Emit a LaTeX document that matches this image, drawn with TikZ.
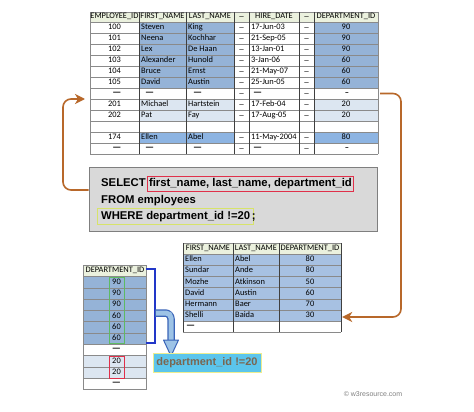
\documentclass[tikz,border=0pt]{standalone}
\usepackage{fontspec}
\setmainfont{Carlito}
\newfontfamily\sqlf{Liberation Sans}
\usetikzlibrary{arrows.meta}
\definecolor{hdrgreen}{HTML}{EBF1DE}
\definecolor{cblue}{HTML}{95B3D7}
\definecolor{clight}{HTML}{DCE6F1}
\definecolor{cdeep}{HTML}{8DB4E2}
\definecolor{rblue}{HTML}{A7C1E2}
\definecolor{gridc}{HTML}{8A8A8A}
\definecolor{vlinec}{HTML}{404040}
\definecolor{orng}{HTML}{B8682A}
\definecolor{sqlgray}{HTML}{D9D9D9}
\definecolor{sqlborder}{HTML}{7F7F7F}
\definecolor{redbox}{HTML}{E0304A}
\definecolor{limebox}{HTML}{D7E36A}
\definecolor{brkblue}{HTML}{2237C8}
\definecolor{arrlight}{HTML}{9DC3E6}
\definecolor{arrdark}{HTML}{3A64B8}
\definecolor{skyb}{HTML}{5BC5EC}
\definecolor{lblyellow}{HTML}{EDED90}
\definecolor{lbltext}{HTML}{7A6650}
\definecolor{gboxc}{HTML}{5DBB63}
\newcommand\dcol{{\fontsize{6}{6}\selectfont\bfseries —}}
\newcommand\drow{{\fontsize{10}{10}\selectfont\bfseries —}}
\begin{document}
\begin{tikzpicture}[x=1pt,y=-1pt,
  every node/.style={inner sep=0pt, font=\fontsize{8.4}{9}\selectfont},
  cell/.style={text height=5.6pt, text depth=1.6pt},
  lt/.style={cell, anchor=west},
  ct/.style={cell, anchor=center},
  hl/.style={draw=gridc, line width=0.5pt},
  vl/.style={draw=vlinec, line width=0.8pt},
  oarrow/.style={draw=orng, line width=1.6pt, rounded corners=8pt, -{Stealth[length=10pt,width=10pt,inset=3pt]}},
  sqltext/.style={font=\sqlf\bfseries\fontsize{11.3}{13}\selectfont, anchor=west, inner sep=0pt, text height=8.2pt, text depth=2.5pt},
  frame/.style={draw=none, inner sep=0pt}]
\useasboundingbox (0,0) rectangle (474,412);
\fill[white] (0,0) rectangle (474,412);

% ---------- top table ----------
\node[frame, minimum width=288pt, minimum height=142pt] (toptbl) at (234,83) {};
\fill[hdrgreen] (90,12) rectangle (378,22);
\fill[cblue] (139,22) rectangle (234,88); \fill[cblue] (314,22) rectangle (378,88);
\fill[clight] (139,99) rectangle (234,121); \fill[clight] (314,99) rectangle (378,121);
\fill[cdeep] (139,132) rectangle (234,143); \fill[cdeep] (314,132) rectangle (378,143);
\draw[hl] (90,12) -- (378,12);
\foreach \i in {0,...,12} \draw[hl] (90,{22+11*\i}) -- (378,{22+11*\i});
\draw[hl] (90,12) -- (90,154); \draw[hl] (378,12) -- (378,154);
\foreach \x in {139,186,234,249,299,314} \draw[vl] (\x,12) -- (\x,154);
\foreach \n/\x/\t in {1/114.5/EMPLOYEE\_ID, 2/162.5/FIRST\_NAME, 3/210/LAST\_NAME, 5/274/HIRE\_DATE, 7/346/DEPARTMENT\_ID}
  \node[ct] (th-\n) at (\x,17) {\t};
\node[ct] (th-4) at (241.5,17) {\dcol};
\node[ct] (th-6) at (306.5,17) {\dcol};
\foreach \r/\va/\vb/\vc/\ve/\vg in {1/100/Steven/King/17-Jun-03/90, 2/101/Neena/Kochhar/21-Sep-05/90, 3/102/Lex/De Haan/13-Jan-01/90, 4/103/Alexander/Hunold/3-Jan-06/60, 5/104/Bruce/Ernst/21-May-07/60, 6/105/David/Austin/25-Jun-05/60, 8/201/Michael/Hartstein/17-Feb-04/20, 9/202/Pat/Fay/17-Aug-05/20, 11/174/Ellen/Abel/11-May-2004/80}{
  \pgfmathsetmacro\yy{16.5+11*\r}
  \node[ct] (t-\r-1) at (114.5,\yy) {\va};
  \node[lt] (t-\r-2) at (141,\yy) {\vb};
  \node[lt] (t-\r-3) at (188,\yy) {\vc};
  \node[ct] (t-\r-4) at (241.5,\yy) {\dcol};
  \node[lt] (t-\r-5) at (251,\yy) {\ve};
  \node[ct] (t-\r-6) at (306.5,\yy) {\dcol};
  \node[ct] (t-\r-7) at (346,\yy) {\vg};
}
\foreach \r in {7,12}{
  \pgfmathsetmacro\yy{16.5+11*\r}
  \node[ct] (t-\r-1) at (117,\yy) {\drow};
  \node[lt] (t-\r-2) at (145,\yy) {\drow};
  \node[lt] (t-\r-3) at (193,\yy) {\drow};
  \node[ct] (t-\r-4) at (241.5,\yy) {\dcol};
  \node[lt] (t-\r-5) at (253,\yy) {\drow};
  \node[ct] (t-\r-6) at (306.5,\yy) {\dcol};
  \node[ct] (t-\r-7) at (347,\yy) {\bfseries –};
}

% ---------- SQL box ----------
\node[draw=sqlborder, fill=sqlgray, line width=1pt, minimum width=288pt, minimum height=64pt] (sql) at (233,199) {};
\node[sqltext] (sel) at (101,184) {SELECT};
\node[sqltext, draw=redbox, line width=1pt, inner xsep=1.8pt, inner ysep=2.4pt] (cols) at ([xshift=0.8pt]sel.east) {first\_name, last\_name, department\_id};
\node[sqltext] (from) at (101,200.5) {FROM employees};
\node[sqltext, draw=limebox, line width=1.2pt, inner xsep=3.5pt, inner ysep=2.6pt] (where) at (97,216.5) {WHERE department\_id !=20};
\node[sqltext] (semi) at ([xshift=-2.6pt]where.east) {;};

% ---------- result table ----------
\node[frame, minimum width=158pt, minimum height=89.4pt] (restbl) at (262,287.7) {};
\fill[hdrgreen] (183,243) rectangle (341,254);
\fill[rblue] (183,254) rectangle (341,321.2);
\draw[hl] (183,243) -- (341,243);
\foreach \i in {0,...,7} \draw[hl] (183,{254+11.2*\i}) -- (341,{254+11.2*\i});
\foreach \x in {183,233,279,341} \draw[vl] (\x,243) -- (\x,332.4);
\node[ct] (rh-1) at (208,248.5) {FIRST\_NAME};
\node[ct] (rh-2) at (256,248.5) {LAST\_NAME};
\node[ct] (rh-3) at (310,248.5) {DEPARTMENT\_ID};
\foreach \r/\va/\vb/\vc in {1/Ellen/Abel/80, 2/Sundar/Ande/80, 3/Mozhe/Atkinson/50, 4/David/Austin/60, 5/Hermann/Baer/70, 6/Shelli/Baida/30}{
  \pgfmathsetmacro\yy{254+11.2*(\r-0.5)}
  \node[lt] (r-\r-1) at (185,\yy) {\va};
  \node[lt] (r-\r-2) at (235,\yy) {\vb};
  \node[ct] (r-\r-3) at (310,\yy) {\vc};
}
\node[lt] (r-7-1) at (186,326.8) {\drow};

% ---------- department_id table ----------
\node[frame, minimum width=63pt, minimum height=124.5pt] (deptbl) at (114.5,327.25) {};
\fill[hdrgreen] (83,265) rectangle (146,276.5);
\fill[cblue] (83,276.5) rectangle (146,344.3);
\fill[clight] (83,355.6) rectangle (146,378.2);
\draw[hl] (83,265) -- (146,265);
\foreach \i in {0,...,10} \draw[hl] (83,{276.5+11.3*\i}) -- (146,{276.5+11.3*\i});
\draw[hl] (83,265) -- (83,389.5); \draw[hl] (146,265) -- (146,389.5);
\node[ct] (dh) at (115,270.7) {DEPARTMENT\_ID};
\foreach \r/\v in {1/90, 2/90, 3/90, 4/60, 5/60, 6/60, 8/20, 9/20}{
  \pgfmathsetmacro\yy{276.5+11.3*(\r-0.5)}
  \node[ct] (d-\r) at (116.5,\yy) {\v};
}
\node[ct] (d-7) at (116.5,{276.5+11.3*6.5}) {\drow};
\node[ct] (d-10) at (116.5,{276.5+11.3*9.5}) {\drow};
\draw[gboxc, line width=1pt] (109,277.5) rectangle (124,343.5);
\draw[redbox, line width=1pt] (109,356.5) rectangle (124,378);

% bracket and blue arrow
\draw[brkblue, line width=1.3pt] (146,269) -- (155,269) -- (155,343) -- (146,343);
\draw[arrdark, line width=7.5pt, rounded corners=6pt] (155,313) -- (171,313) -- (171,341);
\draw[arrlight, line width=5pt, rounded corners=5pt] (156.2,313) -- (171,313) -- (171,342);
\filldraw[fill=arrlight, draw=arrdark, line width=1pt, line join=round] (163.5,340) -- (178.5,340) -- (171,356) -- cycle;

% label
\node[draw=lblyellow, fill=skyb, line width=0.8pt, minimum width=108pt, minimum height=19pt,
      font=\sqlf\bfseries\fontsize{11}{13}\selectfont, text=lbltext] (lbl) at (207,362.5) {department\_id !=20};

% ---------- orange connectors ----------
\coordinate (la) at (85,99);
\draw[oarrow] ([yshift=9pt]sql.west) -| ([xshift=-22pt]la) -- (la);
\draw[oarrow] ([xshift=2pt]toptbl.east |- t-7-7) -| (401,317) -- ([xshift=1pt,yshift=-29.3pt]restbl.east);

% watermark
\node[font=\sqlf\fontsize{7}{8}\selectfont, text=gray] (wm) at (373,394) {© w3resource.com};
\end{tikzpicture}
\end{document}
